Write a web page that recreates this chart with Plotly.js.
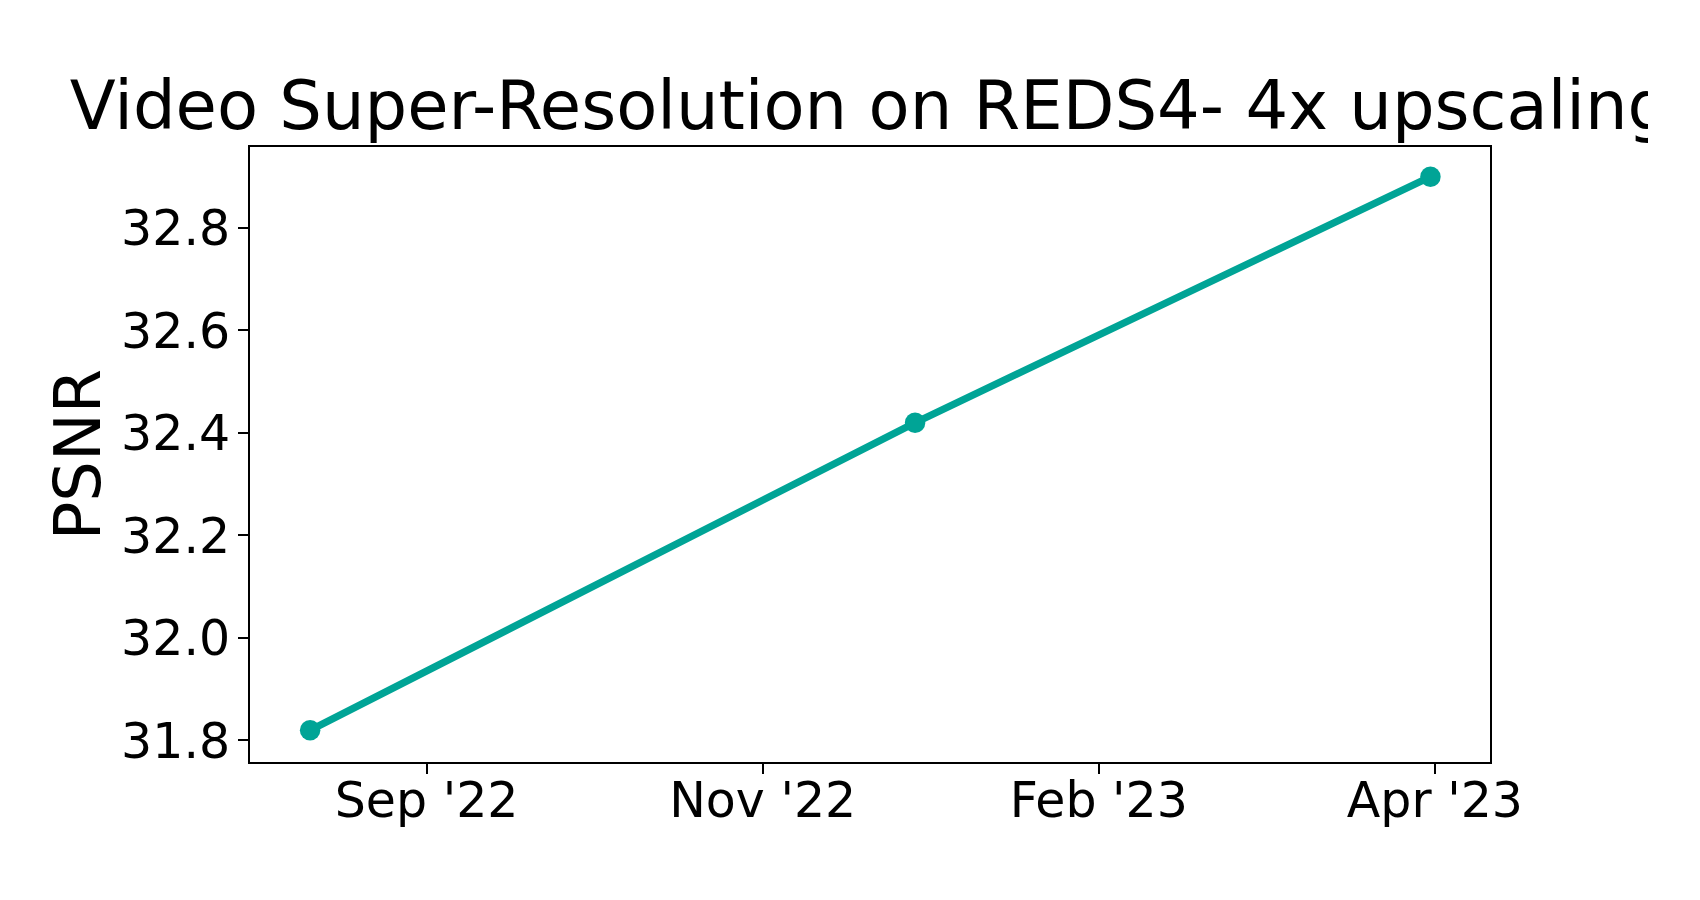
<!DOCTYPE html>
<html>
<head>
<meta charset="utf-8">
<script src="https://cdn.plot.ly/plotly-3.0.1.min.js"></script>
<style>
  html, body { margin: 0; padding: 0; background: #ffffff; }
  #chart { width: 1648px; height: 900px; overflow: hidden; }
</style>
</head>
<body>
<div id="chart"></div>
<script>
// Data
const dates = ["2022-08-20", "2023-01-02", "2023-04-27"];
const psnr = [31.82, 32.42, 32.90];

// Tick positions (dates) and their labels
const xTickVals = ["2022-09-15", "2022-11-29", "2023-02-12", "2023-04-28"];
const xTickText = ["Sep '22", "Nov '22", "Feb '23", "Apr '23"];
const yTickVals = [31.8, 32.0, 32.2, 32.4, 32.6, 32.8];
const yTickText = ["31.8", "32.0", "32.2", "32.4", "32.6", "32.8"];

const chartTitle = "Video Super-Resolution on REDS4- 4x upscaling";
const yTitle = "PSNR";

const lineColor = "#00a496";
const fontFamily = "DejaVu Sans, Liberation Sans, sans-serif";

const trace = {
  x: dates,
  y: psnr,
  type: "scatter",
  mode: "lines+markers",
  line: { color: lineColor, width: 7.2 },
  marker: { color: lineColor, size: 20.5 },
  hoverinfo: "skip",
  showlegend: false
};

const layout = {
  width: 1648,
  height: 900,
  paper_bgcolor: "#ffffff",
  plot_bgcolor: "#ffffff",
  font: { family: fontFamily, color: "#000000" },
  margin: { l: 250, r: 158, t: 147, b: 138, pad: 0 },
  title: {
    text: chartTitle,
    font: { family: fontFamily, size: 67.2, color: "#000000" },
    x: 0.5, xref: "paper", xanchor: "center",
    y: 1 - 105 / 900, yref: "container", yanchor: "middle"
  },
  xaxis: {
    type: "date",
    range: ["2022-08-06 14:00", "2023-05-10 07:00"],
    tickmode: "array",
    tickvals: xTickVals,
    ticktext: xTickText,
    ticks: "outside",
    ticklen: 10,
    tickwidth: 2,
    tickcolor: "#000000",
    tickfont: { family: fontFamily, size: 49, color: "#000000" },
    showgrid: false,
    zeroline: false,
    showline: true,
    linecolor: "#000000",
    linewidth: 2,
    mirror: true,
    automargin: false,
    ticklabelstandoff: -16
  },
  yaxis: {
    range: [31.758, 32.958],
    tickmode: "array",
    tickvals: yTickVals,
    ticktext: yTickText,
    ticks: "outside",
    ticklen: 10,
    tickwidth: 2,
    tickcolor: "#000000",
    tickfont: { family: fontFamily, size: 49, color: "#000000" },
    showgrid: false,
    zeroline: false,
    showline: true,
    linecolor: "#000000",
    linewidth: 2,
    mirror: true,
    automargin: false,
    ticklabelstandoff: -2,
    title: {
      text: yTitle,
      font: { family: fontFamily, size: 64, color: "#000000" },
      standoff: 0
    }
  }
};

Plotly.newPlot("chart", [trace], layout, { staticPlot: true, displayModeBar: false });
</script>
</body>
</html>
